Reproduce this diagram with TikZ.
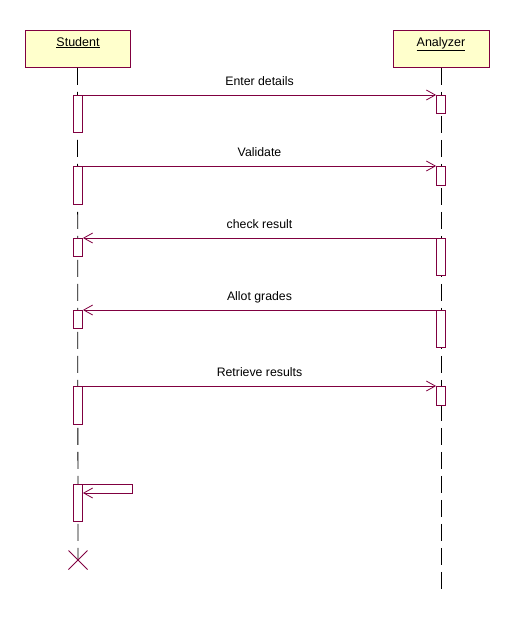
\documentclass[tikz,border=0pt]{standalone}
\usepackage{fontspec}
\setmainfont{Liberation Sans}
\usetikzlibrary{arrows.meta,calc}
\definecolor{umlline}{RGB}{128,0,64}
\definecolor{umlfill}{RGB}{255,255,204}
\tikzset{
  objbox/.style={draw=umlline, fill=umlfill, line width=0.8pt, minimum height=37pt, inner sep=0pt},
  objtext/.style={anchor=base, inner sep=0pt, font=\fontsize{12.5}{14}\selectfont},
  lifeline/.style={draw=black, line width=0.8pt, dash pattern=on 17pt off 7pt},
  act/.style={draw=umlline, fill=white, line width=0.8pt, minimum width=9pt, inner sep=0pt, anchor=north},
  msg/.style={draw=umlline, line width=0.8pt, -{Straight Barb[length=9pt,width=10pt,line width=0.8pt]}},
  msgtext/.style={anchor=base, inner sep=0pt, font=\fontsize{12.3}{14}\selectfont},
  destroy/.style={draw=umlline, line width=0.8pt}
}
\begin{document}
\begin{tikzpicture}[x=1pt,y=-1pt]
\useasboundingbox (0,0) rectangle (530,621);
% objects
\node[objbox, minimum width=105pt] (student) at (77.5,48.5) {};
\node[objbox, minimum width=96pt] (analyzer) at (441,48.5) {};
\node[objtext] (studentlbl) at (78,46) {\underline{Student}};
\node[objtext] (analyzerlbl) at (441,46) {\underline{Analyzer}};
% lifelines
\coordinate (send) at (78,560);
\coordinate (aend) at (441,590);
\draw[lifeline] ([yshift=-0.4pt]student.south) -- (send);
\draw[lifeline] ([yshift=-0.4pt]analyzer.south) -- (aend);
% activations student
\node[act, minimum height=37pt] (s1) at (78,95) {};
\node[act, minimum height=38pt] (s2) at (78,166) {};
\node[act, minimum height=18pt] (s3) at (78,238) {};
\node[act, minimum height=18pt] (s4) at (78,310) {};
\node[act, minimum height=38pt] (s5) at (78,386) {};
\node[act, minimum height=37pt] (s6) at (78,484) {};
% activations analyzer
\node[act, minimum height=18pt] (a1) at (441,95) {};
\node[act, minimum height=19pt] (a2) at (441,166) {};
\node[act, minimum height=37pt] (a3) at (441,238) {};
\node[act, minimum height=37pt] (a4) at (441,310) {};
\node[act, minimum height=19pt] (a5) at (441,386) {};
% messages
\draw[msg] (s1.north east) -- (a1.north west) node[msgtext, pos=0.5, yshift=10pt] (m1) {Enter details};
\draw[msg] (s2.north east) -- (a2.north west) node[msgtext, pos=0.5, yshift=10pt] (m2) {Validate};
\draw[msg] (a3.north west) -- (s3.north east) node[msgtext, pos=0.5, yshift=10pt] (m3) {check result};
\draw[msg] (a4.north west) -- (s4.north east) node[msgtext, pos=0.5, yshift=10pt] (m4) {Allot grades};
\draw[msg] (s5.north east) -- (a5.north west) node[msgtext, pos=0.5, yshift=10pt] (m5) {Retrieve results};
% self message
\coordinate (selfa) at (132,484);
\coordinate (selfb) at (132,493);
\coordinate (selfc) at ($(s6.north east)+(0,9)$);
\draw[msg] (s6.north east) -- (selfa) -- (selfb) -- (selfc);
% destroy
\draw[destroy] ($(send)+(-9.5,-9.5)$) -- ($(send)+(9.5,9.5)$);
\draw[destroy] ($(send)+(-9.5,9.5)$) -- ($(send)+(9.5,-9.5)$);
\end{tikzpicture}
\end{document}
